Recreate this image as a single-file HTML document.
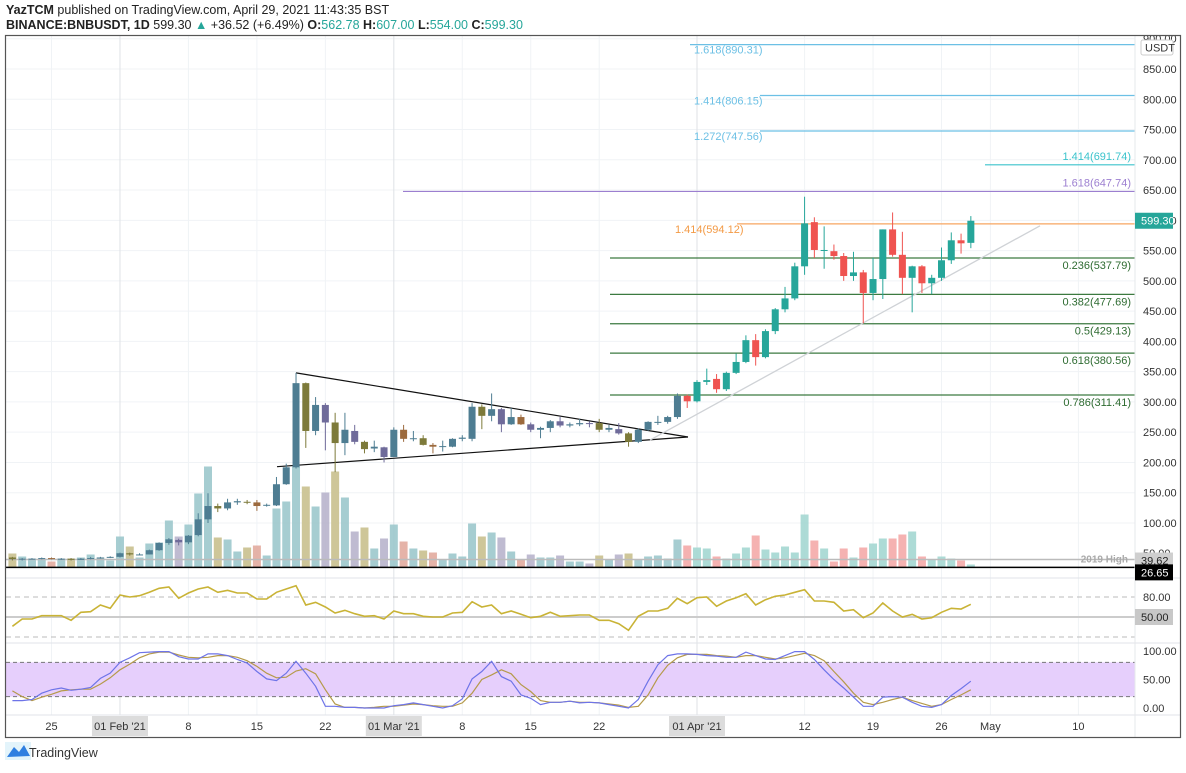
<!DOCTYPE html>
<html><head><meta charset="utf-8">
<style>
html,body{margin:0;padding:0;background:#fff;}
body{width:1186px;height:768px;overflow:hidden;font-family:"Liberation Sans",sans-serif;}
svg text{font-family:"Liberation Sans",sans-serif;}
</style></head>
<body>
<svg id="chart" width="1186" height="768" xmlns="http://www.w3.org/2000/svg">
  <text x="6" y="14" font-size="12.5" fill="#222"><tspan font-weight="bold">YazTCM</tspan> published on TradingView.com, April 29, 2021 11:43:35 BST</text>
  <text x="6" y="29" font-size="12.5" fill="#222"><tspan font-weight="bold">BINANCE:BNBUSDT, 1D</tspan> 599.30 <tspan fill="#26a69a">▲</tspan> +36.52 (+6.49%) <tspan font-weight="bold">O:</tspan><tspan fill="#26a69a">562.78</tspan> <tspan font-weight="bold">H:</tspan><tspan fill="#26a69a">607.00</tspan> <tspan font-weight="bold">L:</tspan><tspan fill="#26a69a">554.00</tspan> <tspan font-weight="bold">C:</tspan><tspan fill="#26a69a">599.30</tspan></text>
  <g id="grid"></g>
  <g id="rsiBg"></g>
  <g id="vol"></g>
  <g id="draw"></g>
  <g id="candles"></g>
  <g id="osc"></g>
  <g id="axes"></g>
  <rect x="5.5" y="35.5" width="1175" height="702" fill="none" stroke="#555" stroke-width="1.2"/>
  <g>
    <rect x="5" y="742" width="26" height="18" fill="#e3f4fb"/>
    <path d="M7 757 L14 747 L19 752 L24 745 L30 756 Z" fill="#2f7fe0"/>
    <text x="29" y="757" font-size="12.5" fill="#333">TradingView</text>
  </g>
</svg>
<script>
const dates = ["Jan21","Jan22","Jan23","Jan24","Jan25","Jan26","Jan27","Jan28","Jan29","Jan30","Jan31"];
const opens  = [43,40,41,41,42,41,41,39,41,42,43, 44,50,48,48,55,67,72,68,80,106,128,124,134,135,134,129,129,164,192,331,252,295,266,232,252,234,223,225,209,254,239,240,229,226,226,239,239,292,277,288,263,275,263,254,257,268,261,263,265,265,254,255,248,234,254,267,267,275,310,301,333,338,321,348,366,402,374,417,453,471,524,597,551,549,541,508,514,480,503,585,543,505,524,496,505,534,567,562.78];
const highs  = [44,42,42,43,43,42,42,42,44,44,45, 51,51,50,56,68,75,74,80,116,149,132,140,140,138,138,132,176,198,348,332,308,298,282,282,262,236,236,226,258,262,252,245,232,236,240,245,298,296,314,290,290,279,266,259,270,275,266,272,268,272,262,265,250,256,268,277,277,314,312,336,355,346,350,380,410,412,420,455,490,530,639,605,590,560,546,548,518,538,585,613,581,525,526,510,555,580,578,607];
const lows   = [38,38,40,40,40,39,38,39,40,41,42, 43,46,47,48,54,64,63,65,78,100,118,121,130,131,120,127,128,163,190,224,245,220,184,212,230,215,217,200,209,234,235,228,215,218,225,235,235,255,268,250,262,262,250,240,250,258,258,260,258,250,250,246,226,232,252,262,264,272,290,299,328,315,318,346,364,360,372,412,448,468,510,538,520,535,500,500,430,468,470,540,478,448,480,478,500,528,545,554];
const closes = [40,41,41,42,41,41,39,41,42,43,44, 50,48,48,55,67,73,68,79,106,128,124,134,136,134,128,130,164,192,331,252,295,266,232,254,234,222,226,209,254,239,240,229,226,227,239,241,292,277,288,263,275,263,254,257,268,261,263,265,264,254,257,248,234,254,267,267,275,310,301,333,336,321,348,366,402,374,417,453,471,524,595,551,551,541,508,514,480,503,585,543,505,524,496,505,534,567,562,599.3];
const volumes = [14,11,9,8,6,9,9,10,13,10,7, 31,21,10,24,25,47,31,43,74,101,30,28,16,20,22,12,59,66,101,81,61,75,96,70,36,40,19,29,43,26,19,17,15,8,14,11,44,31,35,30,16,8,13,10,10,12,6,6,4,12,8,13,14,8,11,12,9,28,22,20,19,11,9,14,20,32,18,15,21,15,53,27,19,6,19,10,20,24,29,29,33,36,11,8,11,9,7,3];
const rsi = [36,47,47,52,52,52,45,57,58,68,63,83,80,82,87,93,95,78,86,92,95,87,90,86,86,77,77,87,92,97,68,72,65,56,60,55,51,52,47,59,55,55,51,50,50,56,57,73,65,
  68,55,59,54,49,51,57,51,52,53,53,45,45,40,30,51,59,59,63,78,70,79,80,66,74,79,85,68,76,81,83,87,91,74,74,72,59,61,49,56,71,59,50,54,47,49,57,63,62,69];
const stochK = [13,13,15,26,32,35,31,33,36,52,61,80,88,97,98,99,99,90,86,86,95,95,92,85,79,64,51,48,61,82,61,38,3,3,1,1,0,0,0,4,6,9,6,3,0,4,16,51,64,
  82,55,47,23,17,6,10,10,12,9,10,9,6,3,0,15,47,76,92,95,95,94,92,91,89,89,98,92,86,85,92,99,99,85,67,50,35,19,3,3,19,20,19,10,3,1,6,22,34,47];
const stochD = [30,20,13,19,24,30,32,33,33,42,53,67,77,88,95,98,98,93,89,88,89,92,92,89,83,73,61,53,54,65,69,60,32,7,1,1,0,1,3,3,5,7,6,4,3,3,9,26,50,
  58,67,60,41,29,13,10,10,12,10,10,9,7,5,1,3,23,53,75,88,94,94,94,92,91,89,92,92,89,86,88,92,96,92,83,64,46,26,10,6,10,15,19,13,8,3,6,15,23,32];
const priceTicks = [50,100,150,200,250,300,350,400,450,500,550,600,650,700,750,800,850,900];
const dateTickIdx = [4,11,18,25,32,39,46,53,60,70,81,88,95,100,109];
const dateTickLabels = ["25","01 Feb '21","8","15","22","01 Mar '21","8","15","22","01 Apr '21","12","19","26","May","10"];
const fibPrices = [890.31,806.15,747.56,691.74,647.74,594.12,537.79,477.69,429.13,380.56,311.41];
const fibLabels = ["1.618(890.31)","1.414(806.15)","1.272(747.56)","1.414(691.74)","1.618(647.74)","1.414(594.12)","0.236(537.79)","0.382(477.69)","0.5(429.13)","0.618(380.56)","0.786(311.41)"];

const NS="http://www.w3.org/2000/svg";
function mk(tag,attrs,parent,txt){const e=document.createElementNS(NS,tag);for(const k in attrs)e.setAttribute(k,attrs[k]);if(txt!==undefined)e.textContent=txt;parent.appendChild(e);return e;}
const X0=12.4, DX=9.78, PR=1135;
const xs=i=>X0+i*DX;
const yp=p=>583.5-p*0.6053;
const yv=v=>567.5-v*1.0;
const yr=v=>617-(v-50)*0.667;
const ys=v=>708-v*0.57;
const grid=document.getElementById('grid'),axes=document.getElementById('axes'),vol=document.getElementById('vol'),cg=document.getElementById('candles'),osc=document.getElementById('osc'),dr=document.getElementById('draw'),bg=document.getElementById('rsiBg');

priceTicks.forEach(p=>{ if(p<100) return;
  const l=mk('line',{x1:6,x2:PR,y1:yp(p),y2:yp(p),stroke:'#f0f3f6','stroke-width':1},grid);
  
  
});
dateTickIdx.forEach((d,k)=>{
  const l=mk('line',{x1:xs(d),x2:xs(d),y1:36,y2:715,stroke:(dateTickLabels[k].length>4?'#dfe2e6':'#f0f3f6'),'stroke-width':1},grid);
  
  
});
[[578],[643],[715]].forEach(a=>{const l=mk('line',{x1:6,x2:1180,y1:a[0],y2:a[0],stroke:'#e0e3e8','stroke-width':1},axes);});
const rax=mk('line',{x1:PR,x2:PR,y1:36,y2:737,stroke:'#e6e8eb','stroke-width':1},axes);



priceTicks.forEach(p=>{
  const t=mk('text',{x:1143,y:yp(p)+4,'font-size':11,fill:'#333'},axes,p.toFixed(2));
  
  
});
const usd=mk('rect',{x:1141,y:40,width:32,height:15,fill:'#fff',stroke:'#ccc',rx:2},axes);


const usdt=mk('text',{x:1145,y:51.5,'font-size':11,fill:'#333'},axes,'USDT');



dateTickIdx.forEach((d,k)=>{
  const lab=dateTickLabels[k];
  if(lab.length>4){const r=mk('rect',{x:xs(d)-28,y:716,width:56,height:20,fill:'#dcdcdc'},axes);}
  const t=mk('text',{x:xs(d),y:730,'font-size':11,fill:'#333','text-anchor':'middle'},axes,lab);
  
  
});

const earlyUp='#4e7d92', earlyDn=['#7d7a3a','#9c6a3e','#6f6b9a'];
function candleColor(i){const up=closes[i]>=opens[i]; if(i<69) return up?earlyUp:earlyDn[i%3]; return up?'#26a69a':'#ef5350';}
function volColor(i){const up=closes[i]>=opens[i]; if(i<69) return up?'#9cc8cc':['#c9c08e','#e2ab9f','#b8b4cc'][i%3]; return up?'#a4d7d2':'#f4aaa9';}
volumes.forEach((v,i)=>{
  const r=mk('rect',{x:xs(i)-4,y:yv(v),width:8,height:567.5-yv(v),fill:volColor(i),opacity:0.9},vol);
  
  
});

const band=mk('rect',{x:6,y:ys(80),width:PR-6,height:ys(20)-ys(80),fill:'#e6cffc'},bg);


[80,20].forEach(v=>{const l=mk('line',{x1:6,x2:PR,y1:ys(v),y2:ys(v),stroke:'#777','stroke-dasharray':'4,3','stroke-width':1},bg);});
[80,20].forEach(v=>{const l=mk('line',{x1:6,x2:PR,y1:yr(v),y2:yr(v),stroke:'#bbb','stroke-dasharray':'5,4','stroke-width':1},bg);});
const mid=mk('line',{x1:6,x2:PR,y1:yr(50),y2:yr(50),stroke:'#ccc','stroke-width':2},bg);



function hline(p,x1,color,w,name){const l=mk('line',{x1:x1,x2:PR,y1:yp(p),y2:yp(p),stroke:color,'stroke-width':w},dr);return l;}
hline(39.62,6,'#bbb',1.5,'level-2019-high');
hline(26.65,6,'#000',1.5,'level-26-65');
const hl=mk('text',{x:1128,y:yp(39.62)+3,'font-size':10,fill:'#aaa','text-anchor':'end','font-weight':'bold'},dr,'2019 High');



const fibStart=[690,760,760,985,403,737,610,610,610,610,610];
const fibColor=['#6cc0e5','#6cc0e5','#6cc0e5','#3bc3cc','#9c7fd0','#f7a560','#3c7a40','#3c7a40','#3c7a40','#3c7a40','#3c7a40'];
fibPrices.forEach((p,i)=>{
  hline(p,fibStart[i],fibColor[i],1.2,'fib-level');
  let t;
  if(i<3) t=mk('text',{x:694,y:yp(p)+9,'font-size':11,fill:fibColor[i]},dr,fibLabels[i]);
  else if(i===5) t=mk('text',{x:675,y:yp(p)+9,'font-size':11,fill:'#f39a45'},dr,fibLabels[i]);
  else if(i<5) t=mk('text',{x:1131,y:yp(p)-5,'font-size':11,fill:fibColor[i],'text-anchor':'end'},dr,fibLabels[i]);
  else t=mk('text',{x:1131,y:yp(p)+11,'font-size':11,fill:'#2e6b31','text-anchor':'end'},dr,fibLabels[i]);
  
  
});
function seg(x1,p1,x2,p2,color,w,name){const l=mk('line',{x1:x1,y1:yp(p1),x2:x2,y2:yp(p2),stroke:color,'stroke-width':w},dr);}
seg(296,348,688,242,'#111',1.2,'triangle-upper');
seg(277,193,688,242,'#111',1.2,'triangle-lower');
seg(650,237,1040,591,'#cfd2d6',1.3,'support-trendline');

opens.forEach((o,i)=>{
  const c=closes[i],col=candleColor(i),x=xs(i);
  const w=mk('line',{x1:x,x2:x,y1:yp(highs[i]),y2:yp(lows[i]),stroke:col,'stroke-width':1},cg);
  
  
  const top=yp(Math.max(o,c)),bot=yp(Math.min(o,c));
  const b=mk('rect',{x:x-3.5,y:top,width:7,height:Math.max(1,bot-top),fill:col},cg);
  
  
});

function poly(arr,f,color,name,w){const pts=arr.map((v,i)=>xs(i).toFixed(1)+','+f(v).toFixed(1)).join(' ');const p=mk('polyline',{points:pts,fill:'none',stroke:color,'stroke-width':w},osc);}
poly(rsi,yr,'#c9b336','rsi-line',1.6);
poly(stochD,ys,'#b59a4a','stoch-d-line',1.2);
poly(stochK,ys,'#6e74e8','stoch-k-line',1.2);

function badge(y,txt,bgc,fg,name){const r=mk('rect',{x:1135,y:y-8,width:38,height:16,fill:bgc},axes);const t=mk('text',{x:1141,y:y+4,'font-size':11,fill:fg},axes,txt);}
badge(yp(599.3),'599.30','#26a69a','#fff','last-price-badge');
badge(yp(39.62)+1,'39.62','#cfcfcf','#222','level-badge-39');
badge(yp(26.65)+5,'26.65','#000','#fff','level-badge-26');
[80].forEach(v=>{const t=mk('text',{x:1143,y:yr(v)+4,'font-size':11,fill:'#333'},axes,v.toFixed(2));});
badge(yr(50),'50.00','#c8c8c8','#222','rsi-value-badge');
[100,50,0].forEach(v=>{const t=mk('text',{x:1143,y:ys(v)+4,'font-size':11,fill:'#333'},axes,v.toFixed(2));});
</script>
</body></html>
